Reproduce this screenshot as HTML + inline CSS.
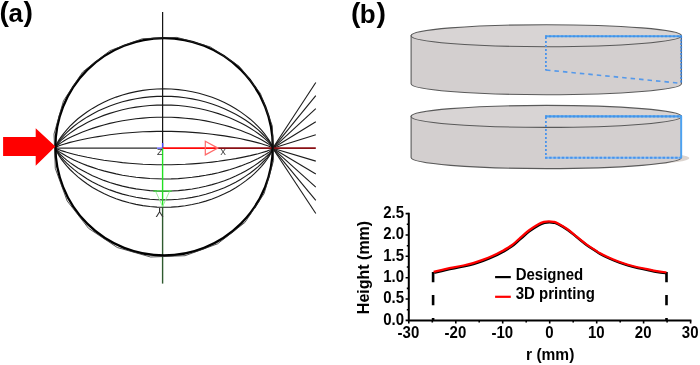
<!DOCTYPE html>
<html><head><meta charset="utf-8"><title>Figure</title>
<style>html,body{margin:0;padding:0;background:#fff}svg{display:block;filter:blur(0.45px)}</style>
</head><body>
<svg width="700" height="365" viewBox="0 0 700 365">
<rect width="700" height="365" fill="#fff"/>
<g fill="none" stroke="#1c1c1c" stroke-width="1.12">
<polyline points="55.5,147.8 55.7,147.4 56.4,147.0 57.6,146.4 59.2,145.8 61.3,145.0 63.8,144.2 66.7,143.4 70.0,142.4 73.8,141.5 77.9,140.5 82.5,139.5 87.3,138.5 92.5,137.5 98.0,136.6 103.8,135.7 109.8,134.8 116.1,134.0 122.5,133.3 129.2,132.7 136.0,132.2 142.9,131.8 149.9,131.6 157.0,131.4 164.1,131.4 171.2,131.4 178.3,131.6 185.3,131.9 192.2,132.4 199.0,132.9 205.7,133.5 212.1,134.3 218.4,135.1 224.4,135.9 230.2,136.9 235.7,137.8 240.9,138.8 245.7,139.9 250.3,140.9 254.4,141.9 258.2,142.9 261.5,143.8 264.4,144.7 266.9,145.5 269.0,146.3 270.6,146.9 271.8,147.5 272.5,147.9 272.7,148.3"/>
<polyline points="55.5,147.8 55.7,148.2 56.4,148.6 57.6,149.2 59.2,149.8 61.3,150.6 63.8,151.4 66.7,152.3 70.0,153.2 73.8,154.2 77.9,155.2 82.5,156.2 87.3,157.3 92.5,158.3 98.0,159.2 103.8,160.2 109.8,161.0 116.1,161.8 122.5,162.6 129.2,163.2 136.0,163.7 142.9,164.2 149.9,164.5 157.0,164.7 164.1,164.8 171.2,164.7 178.3,164.5 185.3,164.3 192.2,163.9 199.0,163.4 205.7,162.8 212.1,162.1 218.4,161.3 224.4,160.4 230.2,159.5 235.7,158.6 240.9,157.6 245.7,156.6 250.3,155.6 254.4,154.6 258.2,153.7 261.5,152.7 264.4,151.9 266.9,151.1 269.0,150.3 270.6,149.7 271.8,149.1 272.5,148.7 272.7,148.3"/>
<polyline points="55.5,147.8 55.7,147.1 56.4,146.3 57.6,145.2 59.2,144.0 61.3,142.6 63.8,141.0 66.7,139.3 70.0,137.6 73.8,135.8 77.9,133.9 82.5,132.0 87.3,130.2 92.5,128.4 98.0,126.6 103.8,125.0 109.8,123.4 116.1,122.0 122.5,120.8 129.2,119.7 136.0,118.8 142.9,118.1 149.9,117.5 157.0,117.2 164.1,117.2 171.2,117.3 178.3,117.6 185.3,118.2 192.2,118.9 199.0,119.8 205.7,120.9 212.1,122.2 218.4,123.7 224.4,125.2 230.2,126.9 235.7,128.7 240.9,130.5 245.7,132.4 250.3,134.3 254.4,136.2 258.2,138.0 261.5,139.8 264.4,141.5 266.9,143.0 269.0,144.4 270.6,145.7 271.8,146.8 272.5,147.6 272.7,148.3"/>
<polyline points="55.5,147.8 55.7,148.5 56.4,149.3 57.6,150.4 59.2,151.7 61.3,153.1 63.8,154.6 66.7,156.3 70.0,158.1 73.8,159.9 77.9,161.8 82.5,163.7 87.3,165.6 92.5,167.4 98.0,169.2 103.8,170.9 109.8,172.4 116.1,173.9 122.5,175.2 129.2,176.3 136.0,177.2 142.9,177.9 149.9,178.5 157.0,178.8 164.1,179.0 171.2,178.9 178.3,178.6 185.3,178.0 192.2,177.3 199.0,176.4 205.7,175.3 212.1,174.1 218.4,172.7 224.4,171.1 230.2,169.5 235.7,167.7 240.9,165.9 245.7,164.1 250.3,162.2 254.4,160.3 258.2,158.5 261.5,156.8 264.4,155.1 266.9,153.5 269.0,152.1 270.6,150.9 271.8,149.8 272.5,149.0 272.7,148.3"/>
<polyline points="55.5,147.8 55.7,146.9 56.4,145.6 57.6,144.1 59.2,142.3 61.3,140.2 63.8,138.0 66.7,135.6 70.0,133.1 73.8,130.5 77.9,127.8 82.5,125.2 87.3,122.6 92.5,120.1 98.0,117.7 103.8,115.4 109.8,113.4 116.1,111.5 122.5,109.8 129.2,108.3 136.0,107.1 142.9,106.2 149.9,105.5 157.0,105.1 164.1,105.0 171.2,105.1 178.3,105.5 185.3,106.3 192.2,107.2 199.0,108.5 205.7,110.0 212.1,111.7 218.4,113.6 224.4,115.7 230.2,118.0 235.7,120.4 240.9,123.0 245.7,125.6 250.3,128.2 254.4,130.9 258.2,133.5 261.5,136.0 264.4,138.4 266.9,140.7 269.0,142.7 270.6,144.6 271.8,146.1 272.5,147.4 272.7,148.3"/>
<polyline points="55.5,147.8 55.7,148.7 56.4,150.0 57.6,151.5 59.2,153.4 61.3,155.4 63.8,157.7 66.7,160.1 70.0,162.6 73.8,165.2 77.9,167.9 82.5,170.5 87.3,173.1 92.5,175.7 98.0,178.1 103.8,180.4 109.8,182.5 116.1,184.4 122.5,186.1 129.2,187.6 136.0,188.9 142.9,189.8 149.9,190.6 157.0,191.0 164.1,191.2 171.2,191.0 178.3,190.6 185.3,189.9 192.2,189.0 199.0,187.8 205.7,186.3 212.1,184.6 218.4,182.7 224.4,180.7 230.2,178.4 235.7,176.0 240.9,173.5 245.7,170.9 250.3,168.3 254.4,165.6 258.2,163.0 261.5,160.5 264.4,158.1 266.9,155.9 269.0,153.8 270.6,152.0 271.8,150.5 272.5,149.2 272.7,148.3"/>
<polyline points="55.5,147.8 55.7,146.6 56.4,145.1 57.6,143.2 59.2,140.9 61.3,138.3 63.8,135.6 66.7,132.6 70.0,129.5 73.8,126.3 77.9,123.1 82.5,120.0 87.3,116.9 92.5,113.9 98.0,111.1 103.8,108.4 109.8,106.0 116.1,103.8 122.5,101.8 129.2,100.1 136.0,98.7 142.9,97.6 149.9,96.9 157.0,96.4 164.1,96.3 171.2,96.4 178.3,96.9 185.3,97.7 192.2,98.9 199.0,100.3 205.7,102.0 212.1,104.0 218.4,106.2 224.4,108.7 230.2,111.4 235.7,114.2 240.9,117.2 245.7,120.3 250.3,123.5 254.4,126.7 258.2,129.9 261.5,133.0 264.4,136.0 266.9,138.8 269.0,141.4 270.6,143.7 271.8,145.6 272.5,147.1 272.7,148.3"/>
<polyline points="55.5,147.8 55.7,149.0 56.4,150.5 57.6,152.4 59.2,154.7 61.3,157.3 63.8,160.1 66.7,163.1 70.0,166.2 73.8,169.4 77.9,172.6 82.5,175.8 87.3,178.9 92.5,181.9 98.0,184.7 103.8,187.4 109.8,189.9 116.1,192.1 122.5,194.1 129.2,195.8 136.0,197.2 142.9,198.4 149.9,199.2 157.0,199.7 164.1,199.9 171.2,199.7 178.3,199.2 185.3,198.5 192.2,197.4 199.0,196.0 205.7,194.3 212.1,192.3 218.4,190.1 224.4,187.7 230.2,185.0 235.7,182.2 240.9,179.2 245.7,176.1 250.3,173.0 254.4,169.8 258.2,166.6 261.5,163.5 264.4,160.5 266.9,157.8 269.0,155.2 270.6,152.9 271.8,151.0 272.5,149.5 272.7,148.3"/>
<polyline points="55.5,147.8 55.7,146.5 56.4,144.6 57.6,142.3 59.2,139.6 61.3,136.6 63.8,133.3 66.7,129.8 70.0,126.2 73.8,122.5 77.9,118.8 82.5,115.2 87.3,111.7 92.5,108.4 98.0,105.2 103.8,102.3 109.8,99.6 116.1,97.1 122.5,95.0 129.2,93.1 136.0,91.6 142.9,90.4 149.9,89.5 157.0,89.0 164.1,88.9 171.2,89.0 178.3,89.6 185.3,90.5 192.2,91.7 199.0,93.3 205.7,95.2 212.1,97.3 218.4,99.8 224.4,102.5 230.2,105.5 235.7,108.7 240.9,112.1 245.7,115.6 250.3,119.2 254.4,122.9 258.2,126.6 261.5,130.2 264.4,133.7 266.9,137.0 269.0,140.1 270.6,142.8 271.8,145.1 272.5,147.0 272.7,148.3"/>
<polyline points="55.5,147.8 55.7,149.1 56.4,151.0 57.6,153.3 59.2,156.0 61.3,159.1 63.8,162.4 66.7,165.9 70.0,169.5 73.8,173.2 77.9,176.9 82.5,180.5 87.3,184.0 92.5,187.4 98.0,190.6 103.8,193.6 109.8,196.3 116.1,198.8 122.5,200.9 129.2,202.8 136.0,204.4 142.9,205.6 149.9,206.5 157.0,207.1 164.1,207.2 171.2,207.1 178.3,206.6 185.3,205.7 192.2,204.5 199.0,203.0 205.7,201.1 212.1,199.0 218.4,196.5 224.4,193.8 230.2,190.9 235.7,187.7 240.9,184.4 245.7,180.9 250.3,177.3 254.4,173.6 258.2,169.9 261.5,166.3 264.4,162.8 266.9,159.5 269.0,156.5 270.6,153.8 271.8,151.5 272.5,149.6 272.7,148.3"/>
<path d="M272.7 148.3 L315.8 134.8"/>
<path d="M272.7 148.3 L315.8 121.8"/>
<path d="M272.7 148.3 L315.8 108.6"/>
<path d="M272.7 148.3 L315.8 95.6"/>
<path d="M272.7 148.3 L315.8 82.5"/>
<path d="M272.7 148.3 L315.8 161.1"/>
<path d="M272.7 148.3 L315.8 174.1"/>
<path d="M272.7 148.3 L315.8 187.2"/>
<path d="M272.7 148.3 L315.8 200.4"/>
<path d="M272.7 148.3 L315.8 213.5"/>
</g>
<path d="M162.6 12 V148.1" stroke="#151515" stroke-width="1.25" fill="none"/>
<path d="M55.5 148.1 H157" stroke="#2a2a2a" stroke-width="1.2" fill="none"/>
<path d="M157 148.1 H162.6 V143" stroke="#4a4aff" stroke-width="1.4" fill="none"/>
<path d="M162.6 148.1 H218" stroke="#ff0808" stroke-width="1.6" fill="none"/>
<path d="M218 148.1 H315.8" stroke="#8a0f14" stroke-width="1.6" fill="none"/>
<path d="M162.6 148.1 V207" stroke="#22e022" stroke-width="1.4" fill="none"/>
<path d="M162.6 207 V283.6" stroke="#2f5a2f" stroke-width="1.4" fill="none"/>
<path d="M205.3 141.3 L217.9 148.1 L205.3 154.9 Z" stroke="#ff6a6a" stroke-width="1.2" fill="none"/>
<path d="M155.5 191 L162.6 206.5 L169.7 191" stroke="#9df09d" stroke-width="1" fill="none"/>
<path d="M153.3 191 H171.8" stroke="#2fd02f" stroke-width="1.3" fill="none"/>
<circle cx="164.1" cy="146.8" r="108.7" fill="none" stroke="#000" stroke-width="2.3"/>
<polygon points="273.6,160.4 264.1,193.7 244.9,222.5 217.6,243.8 185.1,255.7 150.6,257.0 117.3,247.5 88.5,228.3 67.2,201.0 55.3,168.5 54.0,134.0 63.5,100.7 82.7,71.9 110.0,50.6 142.5,38.7 177.0,37.4 210.3,46.9 239.1,66.1 260.4,93.4 272.3,125.9" fill="none" stroke="#2a2a2a" stroke-width="0.8"/>
<path d="M3.1 137.1 H35.7 V128.3 L55.4 146.6 L35.7 165.7 V156.1 H3.1 Z" fill="#ff0000"/>
<g font-family="'Liberation Sans', sans-serif" font-size="8.5" fill="#333">
<text x="220.3" y="155">X</text>
<text x="157" y="155.3" font-size="9">Z</text>
<text transform="translate(163.8 208.2) rotate(180)" x="0" y="0" font-size="12.5">Y</text>
</g>
<g font-family="'Liberation Sans', sans-serif" font-weight="bold" fill="#000">
<text y="21.9" font-size="26"><tspan x="-0.6" font-size="28.4" dy="-0.8">(</tspan><tspan x="8.6" dy="0.8">a</tspan><tspan x="23.4" font-size="28.4" dy="-0.8">)</tspan></text>
<text y="23.1" font-size="26"><tspan x="351" font-size="28.4" dy="-0.8">(</tspan><tspan x="359.8" dy="0.8">b</tspan><tspan x="376.4" font-size="28.4" dy="-0.8">)</tspan></text>
</g>
<path d="M411.1 35.7 V83.7 A135.15 11 0 0 0 681.4 83.7 V35.7 Z" fill="#d3cfcf" stroke="#5a5a5a" stroke-width="1.1"/>
<ellipse cx="546.25" cy="35.7" rx="135.15" ry="11" fill="#d8d4d4" stroke="#5a5a5a" stroke-width="1.1"/>
<ellipse cx="550.25" cy="158.1" rx="139.15" ry="9.5" fill="#d8cfca" opacity="0.9"/>
<path d="M411.1 116.4 V157.6 A135.15 11 0 0 0 681.4 157.6 V116.4 Z" fill="#d3cfcf" stroke="#5a5a5a" stroke-width="1.1"/>
<ellipse cx="546.25" cy="116.4" rx="135.15" ry="11" fill="#d8d4d4" stroke="#5a5a5a" stroke-width="1.1"/>
<path d="M545.2 36.3 H681.8" stroke="#4ba2f2" stroke-width="2.1" fill="none"/>
<path d="M545.2 36.3 H681.8" stroke="#3f86dd" stroke-width="2.1" fill="none" stroke-dasharray="1.6 2.4" opacity="0.7"/>
<path d="M545.9 37 V70.5" stroke="#4a93ea" stroke-width="1.8" fill="none" stroke-dasharray="2 2"/>
<path d="M681.2 36 V83.5" stroke="#3f86dd" stroke-width="1.8" fill="none" stroke-dasharray="2.2 1.2"/>
<path d="M546 70 L681 83.3" stroke="#5599ea" stroke-width="1.6" fill="none" stroke-dasharray="4.5 4"/>
<path d="M545.2 116.4 H681.8" stroke="#4ba2f2" stroke-width="2.1" fill="none"/>
<path d="M545.2 116.4 H681.8" stroke="#3f86dd" stroke-width="2.1" fill="none" stroke-dasharray="1.6 2.4" opacity="0.7"/>
<path d="M545.9 117 V157.6" stroke="#4a93ea" stroke-width="1.8" fill="none" stroke-dasharray="2 2"/>
<path d="M545 157.7 H681.2" stroke="#86bdf3" stroke-width="1.9" fill="none"/>
<path d="M545 157.7 H681.2" stroke="#4a93ea" stroke-width="1.9" fill="none" stroke-dasharray="2.4 1.8"/>
<path d="M681.2 116 V158" stroke="#4ba2f2" stroke-width="1.9" fill="none"/>
<path d="M408.8 212.7 V320.4 H691.4" stroke="#000" stroke-width="2" fill="none"/>
<path d="M408.8 320.4 h-3.2 M408.8 299.0 h-3.2 M408.8 277.7 h-3.2 M408.8 256.3 h-3.2 M408.8 235.0 h-3.2 M408.8 213.6 h-3.2 M408.8 309.7 h-2 M408.8 288.4 h-2 M408.8 267.0 h-2 M408.8 245.7 h-2 M408.8 224.3 h-2 M408.8 320.4 v3.2 M455.8 320.4 v3.2 M502.7 320.4 v3.2 M549.7 320.4 v3.2 M596.7 320.4 v3.2 M643.6 320.4 v3.2 M690.6 320.4 v3.2 M432.3 320.4 v2 M479.2 320.4 v2 M526.2 320.4 v2 M573.2 320.4 v2 M620.2 320.4 v2 M667.1 320.4 v2" stroke="#000" stroke-width="1.6" fill="none"/>
<g font-family="'Liberation Sans', sans-serif" font-weight="bold" fill="#000">
<text transform="translate(404.0 324.8) scale(0.955 1)" text-anchor="end" font-size="15.7">0.0</text>
<text transform="translate(404.0 303.4) scale(0.955 1)" text-anchor="end" font-size="15.7">0.5</text>
<text transform="translate(404.0 282.1) scale(0.955 1)" text-anchor="end" font-size="15.7">1.0</text>
<text transform="translate(404.0 260.7) scale(0.955 1)" text-anchor="end" font-size="15.7">1.5</text>
<text transform="translate(404.0 239.4) scale(0.955 1)" text-anchor="end" font-size="15.7">2.0</text>
<text transform="translate(404.0 218.0) scale(0.955 1)" text-anchor="end" font-size="15.7">2.5</text>
<text transform="translate(408.4 337.7) scale(0.955 1)" text-anchor="middle" font-size="15.7">-30</text>
<text transform="translate(455.4 337.7) scale(0.955 1)" text-anchor="middle" font-size="15.7">-20</text>
<text transform="translate(502.3 337.7) scale(0.955 1)" text-anchor="middle" font-size="15.7">-10</text>
<text transform="translate(549.3 337.7) scale(0.955 1)" text-anchor="middle" font-size="15.7">0</text>
<text transform="translate(596.3 337.7) scale(0.955 1)" text-anchor="middle" font-size="15.7">10</text>
<text transform="translate(643.2 337.7) scale(0.955 1)" text-anchor="middle" font-size="15.7">20</text>
<text transform="translate(690.2 337.7) scale(0.955 1)" text-anchor="middle" font-size="15.7">30</text>
<text transform="translate(515.7 279.8) scale(0.955 1)" text-anchor="start" font-size="15.7">Designed</text>
<text transform="translate(515.7 298.7) scale(0.955 1)" text-anchor="start" font-size="15.7">3D printing</text>
<text transform="translate(550.2 359.6) scale(0.97 1)" text-anchor="middle" font-size="16">r (mm)</text>
<text transform="translate(368.7 267.5) rotate(-90) scale(1.0 1)" text-anchor="middle" font-size="16">Height (mm)</text>
</g>
<path d="M495.1 277.1 H510.8" stroke="#000" stroke-width="2.2"/>
<path d="M495.1 296.8 H510.8" stroke="#ff0000" stroke-width="2.2"/>
<path d="M433.1 272 V320.4" stroke="#000" stroke-width="2.6" stroke-dasharray="10.2 12.8" fill="none"/>
<path d="M666.5 272 V320.4" stroke="#000" stroke-width="2.6" stroke-dasharray="10.2 12.8" fill="none"/>
<path d="M433.6 271.8 C435.4 271.4 440.8 270.0 444.2 269.3 C447.6 268.6 450.6 268.0 453.8 267.4 C457.0 266.8 460.2 266.2 463.4 265.5 C466.6 264.8 469.8 264.0 473 263.1 C476.2 262.2 479.4 261.1 482.6 259.9 C485.8 258.7 489.0 257.5 492.2 256.1 C495.4 254.7 498.6 253.1 501.8 251.3 C505.0 249.5 508.5 247.6 511.4 245.5 C514.3 243.4 516.3 241.3 519.2 238.8 C522.1 236.3 525.6 232.9 528.8 230.5 C532.0 228.1 535.8 225.6 538.4 224.2 C541.0 222.8 542.4 222.4 544.1 221.9 C545.9 221.4 547.3 221.3 548.9 221.3 C550.5 221.3 552.0 221.5 553.5 221.8 C555.0 222.1 555.3 222.0 557.6 223.2 C559.9 224.4 564.0 226.8 567.2 229 C570.4 231.2 573.6 234.1 576.8 236.7 C580.0 239.2 583.2 242.0 586.4 244.3 C589.6 246.6 593.9 249.3 596 250.7 C598.1 252.1 597.1 251.7 599.2 252.8 C601.3 254.0 605.6 256.2 608.8 257.6 C612.0 259.1 615.2 260.3 618.4 261.5 C621.6 262.7 624.8 263.8 628 264.7 C631.2 265.6 634.4 266.5 637.6 267.2 C640.8 267.9 644.0 268.5 647.2 269.1 C650.4 269.8 653.6 270.6 656.8 271.1 C660.0 271.7 664.8 272.2 666.4 272.4" stroke="#000" stroke-width="2.4" fill="none" transform="translate(0.5 0.9)"/>
<path d="M433.6 271.8 C435.4 271.4 440.8 270.0 444.2 269.3 C447.6 268.6 450.6 268.0 453.8 267.4 C457.0 266.8 460.2 266.2 463.4 265.5 C466.6 264.8 469.8 264.0 473 263.1 C476.2 262.2 479.4 261.1 482.6 259.9 C485.8 258.7 489.0 257.5 492.2 256.1 C495.4 254.7 498.6 253.1 501.8 251.3 C505.0 249.5 508.5 247.6 511.4 245.5 C514.3 243.4 516.3 241.3 519.2 238.8 C522.1 236.3 525.6 232.9 528.8 230.5 C532.0 228.1 535.8 225.6 538.4 224.2 C541.0 222.8 542.4 222.4 544.1 221.9 C545.9 221.4 547.3 221.3 548.9 221.3 C550.5 221.3 552.0 221.5 553.5 221.8 C555.0 222.1 555.3 222.0 557.6 223.2 C559.9 224.4 564.0 226.8 567.2 229 C570.4 231.2 573.6 234.1 576.8 236.7 C580.0 239.2 583.2 242.0 586.4 244.3 C589.6 246.6 593.9 249.3 596 250.7 C598.1 252.1 597.1 251.7 599.2 252.8 C601.3 254.0 605.6 256.2 608.8 257.6 C612.0 259.1 615.2 260.3 618.4 261.5 C621.6 262.7 624.8 263.8 628 264.7 C631.2 265.6 634.4 266.5 637.6 267.2 C640.8 267.9 644.0 268.5 647.2 269.1 C650.4 269.8 653.6 270.6 656.8 271.1 C660.0 271.7 664.8 272.2 666.4 272.4" stroke="#ff0000" stroke-width="2.2" fill="none"/>
</svg>
</body></html>
